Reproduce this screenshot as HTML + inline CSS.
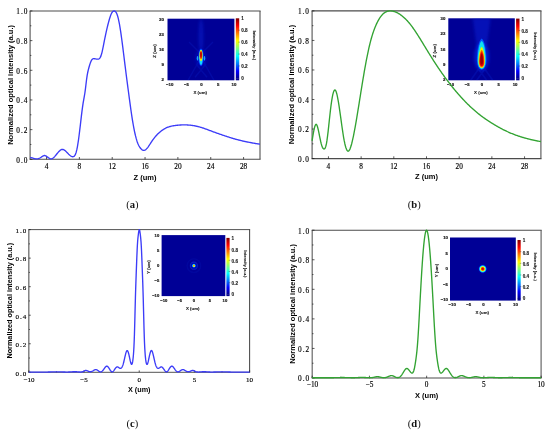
<!DOCTYPE html>
<html><head><meta charset="utf-8"><title>Figure</title>
<style>html,body{margin:0;padding:0;background:#fff}svg{display:block}</style>
</head><body>
<svg width="550" height="433" viewBox="0 0 550 433">
<defs>
<linearGradient id="jet" x1="0" y1="1" x2="0" y2="0"><stop offset="0" stop-color="#00008f"/><stop offset="0.125" stop-color="#0000ff"/><stop offset="0.375" stop-color="#00ffff"/><stop offset="0.625" stop-color="#ffff00"/><stop offset="0.875" stop-color="#ff0000"/><stop offset="1" stop-color="#800000"/></linearGradient>
<radialGradient id="spotC"><stop offset="0" stop-color="#ff7000"/><stop offset="0.28" stop-color="#ffa800"/><stop offset="0.45" stop-color="#a0ff60"/><stop offset="0.62" stop-color="#00b0ff"/><stop offset="0.82" stop-color="#0040ff" stop-opacity="0.7"/><stop offset="1" stop-color="#0000c0" stop-opacity="0"/></radialGradient>
<radialGradient id="spotD"><stop offset="0" stop-color="#b00000"/><stop offset="0.25" stop-color="#e81000"/><stop offset="0.42" stop-color="#ff9000"/><stop offset="0.52" stop-color="#f0ff10"/><stop offset="0.64" stop-color="#30ffc0"/><stop offset="0.76" stop-color="#00a0ff"/><stop offset="0.9" stop-color="#0030f0" stop-opacity="0.7"/><stop offset="1" stop-color="#0000c0" stop-opacity="0"/></radialGradient>
<radialGradient id="halo"><stop offset="0" stop-color="#0030ff" stop-opacity="0.9"/><stop offset="0.6" stop-color="#0018e0" stop-opacity="0.5"/><stop offset="1" stop-color="#0000a0" stop-opacity="0"/></radialGradient>
<filter id="bl0" x="-50%" y="-50%" width="200%" height="200%"><feGaussianBlur stdDeviation="0.35"/></filter>
<filter id="bl1" x="-50%" y="-50%" width="200%" height="200%"><feGaussianBlur stdDeviation="0.6"/></filter>
<filter id="bl2" x="-50%" y="-50%" width="200%" height="200%"><feGaussianBlur stdDeviation="1.6"/></filter>
</defs>
<clipPath id="clipa"><rect x="167.5" y="18.7" width="66.90" height="61.60"/></clipPath>
<rect x="167.5" y="18.7" width="66.90" height="61.60" fill="#000096"/>
<g clip-path="url(#clipa)">
<ellipse cx="201.0" cy="36" rx="2.6" ry="17" fill="#0828d8" opacity="0.45" filter="url(#bl2)"/>
<ellipse cx="201.0" cy="58" rx="6" ry="9" fill="#0010c8" opacity="0.5" filter="url(#bl2)"/>
<path d="M199.5,60 L188.0,80.3 M202.5,60 L214.0,80.3 M199.0,52 L189.0,42 M203.0,52 L213.0,42 M196.0,64 L207.0,77.3 M206.0,64 L195.0,77.3" stroke="#1030e0" stroke-width="1.4" opacity="0.2" fill="none" filter="url(#bl1)"/>
<g filter="url(#bl0)">
<ellipse cx="201.0" cy="57.2" rx="2.6" ry="8.8" fill="#0038ff"/>
<ellipse cx="201.0" cy="57.3" rx="1.8" ry="7.8" fill="#10d8ff"/>
<ellipse cx="201.0" cy="55.6" rx="1.5" ry="5.5" fill="#e8f000"/>
<ellipse cx="201.0" cy="54.9" rx="1.15" ry="4.0" fill="#f02800"/>
<ellipse cx="201.0" cy="54.6" rx="0.7" ry="2.6" fill="#b00000"/>
<ellipse cx="197.5" cy="58.3" rx="0.75" ry="2.4" fill="#18a8ff"/>
<ellipse cx="204.5" cy="58.3" rx="0.75" ry="2.4" fill="#18a8ff"/>
</g>
</g>
<rect x="235.8" y="18.3" width="3.40" height="60.30" fill="url(#jet)"/>
<rect x="235.8" y="78.30" width="3.40" height="2.00" fill="#00008f"/>
<text x="169.70" y="85.90" text-anchor="middle" style="font-family:'Liberation Sans',sans-serif;font-weight:bold;font-size:4.3px;fill:#1a1a1a;stroke:#1a1a1a;stroke-width:0.2">−10</text>
<text x="186.42" y="85.90" text-anchor="middle" style="font-family:'Liberation Sans',sans-serif;font-weight:bold;font-size:4.3px;fill:#1a1a1a;stroke:#1a1a1a;stroke-width:0.2">−5</text>
<text x="201.45" y="85.90" text-anchor="middle" style="font-family:'Liberation Sans',sans-serif;font-weight:bold;font-size:4.3px;fill:#1a1a1a;stroke:#1a1a1a;stroke-width:0.2">0</text>
<text x="218.18" y="85.90" text-anchor="middle" style="font-family:'Liberation Sans',sans-serif;font-weight:bold;font-size:4.3px;fill:#1a1a1a;stroke:#1a1a1a;stroke-width:0.2">5</text>
<text x="234.00" y="85.90" text-anchor="middle" style="font-family:'Liberation Sans',sans-serif;font-weight:bold;font-size:4.3px;fill:#1a1a1a;stroke:#1a1a1a;stroke-width:0.2">10</text>
<text x="163.90" y="20.60" text-anchor="end" style="font-family:'Liberation Sans',sans-serif;font-weight:bold;font-size:4.3px;fill:#1a1a1a;stroke:#1a1a1a;stroke-width:0.2">30</text>
<text x="163.90" y="35.67" text-anchor="end" style="font-family:'Liberation Sans',sans-serif;font-weight:bold;font-size:4.3px;fill:#1a1a1a;stroke:#1a1a1a;stroke-width:0.2">23</text>
<text x="163.90" y="50.75" text-anchor="end" style="font-family:'Liberation Sans',sans-serif;font-weight:bold;font-size:4.3px;fill:#1a1a1a;stroke:#1a1a1a;stroke-width:0.2">16</text>
<text x="163.90" y="65.83" text-anchor="end" style="font-family:'Liberation Sans',sans-serif;font-weight:bold;font-size:4.3px;fill:#1a1a1a;stroke:#1a1a1a;stroke-width:0.2">9</text>
<text x="163.90" y="80.90" text-anchor="end" style="font-family:'Liberation Sans',sans-serif;font-weight:bold;font-size:4.3px;fill:#1a1a1a;stroke:#1a1a1a;stroke-width:0.2">2</text>
<text x="200.25" y="93.70" text-anchor="middle" style="font-family:'Liberation Sans',sans-serif;font-weight:bold;font-size:4.35px;fill:#1a1a1a;stroke:#1a1a1a;stroke-width:0.12">X (um)</text>
<text transform="translate(155.50,51.00) rotate(-90)" text-anchor="middle" style="font-family:'Liberation Sans',sans-serif;font-weight:bold;font-size:4.35px;fill:#1a1a1a;stroke:#1a1a1a;stroke-width:0.12">Z (um)</text>
<path d="M238.30,30.22 h1.6 M238.30,42.14 h1.6 M238.30,54.06 h1.6 M238.30,65.98 h1.6" stroke="#222" stroke-width="0.35" fill="none"/>
<text x="241.20" y="20.45" style="font-family:'Liberation Sans',sans-serif;font-weight:bold;font-size:4.6px;fill:#1a1a1a;stroke:#1a1a1a;stroke-width:0.12">1</text>
<text x="241.20" y="32.27" style="font-family:'Liberation Sans',sans-serif;font-weight:bold;font-size:4.6px;fill:#1a1a1a;stroke:#1a1a1a;stroke-width:0.12">0.8</text>
<text x="241.20" y="44.09" style="font-family:'Liberation Sans',sans-serif;font-weight:bold;font-size:4.6px;fill:#1a1a1a;stroke:#1a1a1a;stroke-width:0.12">0.6</text>
<text x="241.20" y="55.91" style="font-family:'Liberation Sans',sans-serif;font-weight:bold;font-size:4.6px;fill:#1a1a1a;stroke:#1a1a1a;stroke-width:0.12">0.4</text>
<text x="241.20" y="67.73" style="font-family:'Liberation Sans',sans-serif;font-weight:bold;font-size:4.6px;fill:#1a1a1a;stroke:#1a1a1a;stroke-width:0.12">0.2</text>
<text x="241.20" y="79.55" style="font-family:'Liberation Sans',sans-serif;font-weight:bold;font-size:4.6px;fill:#1a1a1a;stroke:#1a1a1a;stroke-width:0.12">0</text>
<text transform="translate(253.20,45.25) rotate(90)" text-anchor="middle" style="font-family:'Liberation Sans',sans-serif;font-weight:bold;font-size:4.4px;fill:#1a1a1a;stroke:#1a1a1a;stroke-width:0.1">Intensity (a.u.)</text>
<path d="M30.1,10.95 V159.3 M260.0,10.95 V159.3" fill="none" stroke="#686868" stroke-width="1.25"/>
<path d="M29.50,10.95 H260.60 M29.50,159.3 H260.60" fill="none" stroke="#4c4c4c" stroke-width="1.10"/>
<path d="M46.52,159.3 v-2.3 M79.36,159.3 v-2.3 M112.21,159.3 v-2.3 M145.05,159.3 v-2.3 M177.89,159.3 v-2.3 M210.74,159.3 v-2.3 M243.58,159.3 v-2.3 M30.1,159.30 h2.3 M30.1,129.63 h2.3 M30.1,99.96 h2.3 M30.1,70.29 h2.3 M30.1,40.62 h2.3 M30.1,10.95 h2.3 M30.1,144.47 h1.26 M30.1,114.79 h1.26 M30.1,85.12 h1.26 M30.1,55.45 h1.26 M30.1,25.78 h1.26" stroke="#151515" stroke-width="0.7" fill="none"/>
<path d="M30.10,157.50 L30.68,157.56 L31.25,157.67 L31.83,157.81 L32.40,157.97 L32.98,158.14 L33.56,158.32 L34.13,158.49 L34.71,158.64 L35.29,158.77 L35.86,158.87 L36.44,158.91 L37.01,158.91 L37.59,158.84 L38.17,158.70 L38.74,158.51 L39.32,158.27 L39.90,157.98 L40.47,157.64 L41.05,157.27 L41.62,156.87 L42.20,156.47 L42.78,156.10 L43.35,155.79 L43.93,155.58 L44.50,155.50 L45.08,155.57 L45.66,155.78 L46.23,156.09 L46.81,156.48 L47.39,156.92 L47.96,157.37 L48.54,157.81 L49.11,158.21 L49.69,158.53 L50.27,158.77 L50.84,158.89 L51.42,158.87 L52.00,158.71 L52.57,158.42 L53.15,158.03 L53.72,157.54 L54.30,156.97 L54.88,156.35 L55.45,155.67 L56.03,154.96 L56.60,154.24 L57.18,153.52 L57.76,152.81 L58.33,152.13 L58.91,151.49 L59.49,150.91 L60.06,150.40 L60.64,149.98 L61.21,149.66 L61.79,149.46 L62.37,149.39 L62.94,149.46 L63.52,149.65 L64.10,149.95 L64.67,150.33 L65.25,150.79 L65.82,151.31 L66.40,151.87 L66.98,152.46 L67.55,153.05 L68.13,153.65 L68.70,154.22 L69.28,154.77 L69.86,155.27 L70.43,155.72 L71.01,156.10 L71.59,156.40 L72.16,156.61 L72.74,156.71 L73.31,156.68 L73.89,156.45 L74.47,155.96 L75.04,155.13 L75.62,153.89 L76.20,152.19 L76.77,149.95 L77.35,147.11 L77.92,143.70 L78.50,139.79 L79.08,135.49 L79.65,130.89 L80.23,126.06 L80.80,121.12 L81.38,116.19 L81.96,111.45 L82.53,107.07 L83.11,103.21 L83.69,99.88 L84.26,96.70 L84.84,93.25 L85.41,89.10 L85.99,84.23 L86.57,79.49 L87.14,75.60 L87.72,72.49 L88.30,69.94 L88.87,67.76 L89.45,65.75 L90.02,63.89 L90.60,62.25 L91.18,60.89 L91.75,59.87 L92.33,59.21 L92.90,58.84 L93.48,58.69 L94.06,58.69 L94.63,58.75 L95.21,58.85 L95.79,58.96 L96.36,59.07 L96.94,59.16 L97.51,59.20 L98.09,59.18 L98.67,59.04 L99.24,58.71 L99.82,58.11 L100.40,57.19 L100.97,55.86 L101.55,54.05 L102.12,51.81 L102.70,49.22 L103.28,46.40 L103.85,43.45 L104.43,40.47 L105.00,37.57 L105.58,34.78 L106.16,32.10 L106.73,29.54 L107.31,27.09 L107.89,24.77 L108.46,22.55 L109.04,20.47 L109.61,18.51 L110.19,16.70 L110.77,15.10 L111.34,13.72 L111.92,12.60 L112.50,11.79 L113.07,11.28 L113.65,11.04 L114.22,11.00 L114.80,11.14 L115.38,11.50 L115.95,12.13 L116.53,13.11 L117.10,14.48 L117.68,16.26 L118.26,18.45 L118.83,21.03 L119.41,23.97 L119.99,27.26 L120.56,30.89 L121.14,34.82 L121.71,39.00 L122.29,43.37 L122.87,47.89 L123.44,52.50 L124.02,57.15 L124.60,61.80 L125.17,66.42 L125.75,71.01 L126.32,75.54 L126.90,80.00 L127.48,84.39 L128.05,88.73 L128.63,93.03 L129.20,97.33 L129.78,101.62 L130.36,105.86 L130.93,110.00 L131.51,113.99 L132.09,117.80 L132.66,121.40 L133.24,124.76 L133.81,127.91 L134.39,130.82 L134.97,133.50 L135.54,135.94 L136.12,138.16 L136.70,140.15 L137.27,141.92 L137.85,143.47 L138.42,144.81 L139.00,145.97 L139.58,146.95 L140.15,147.79 L140.73,148.50 L141.30,149.11 L141.88,149.62 L142.46,150.01 L143.03,150.28 L143.61,150.40 L144.19,150.36 L144.76,150.18 L145.34,149.86 L145.91,149.42 L146.49,148.88 L147.07,148.26 L147.64,147.55 L148.22,146.79 L148.80,145.98 L149.37,145.13 L149.95,144.25 L150.52,143.36 L151.10,142.47 L151.68,141.58 L152.25,140.72 L152.83,139.88 L153.40,139.08 L153.98,138.32 L154.56,137.58 L155.13,136.87 L155.71,136.20 L156.29,135.55 L156.86,134.93 L157.44,134.33 L158.01,133.76 L158.59,133.21 L159.17,132.68 L159.74,132.18 L160.32,131.69 L160.90,131.23 L161.47,130.78 L162.05,130.36 L162.62,129.96 L163.20,129.58 L163.78,129.22 L164.35,128.88 L164.93,128.55 L165.50,128.25 L166.08,127.97 L166.66,127.71 L167.23,127.46 L167.81,127.23 L168.39,127.02 L168.96,126.83 L169.54,126.65 L170.11,126.49 L170.69,126.34 L171.27,126.20 L171.84,126.07 L172.42,125.96 L173.00,125.85 L173.57,125.75 L174.15,125.66 L174.72,125.58 L175.30,125.50 L175.88,125.43 L176.45,125.36 L177.03,125.29 L177.60,125.23 L178.18,125.18 L178.76,125.13 L179.33,125.08 L179.91,125.04 L180.49,125.01 L181.06,124.97 L181.64,124.95 L182.21,124.93 L182.79,124.91 L183.37,124.90 L183.94,124.90 L184.52,124.90 L185.10,124.90 L185.67,124.91 L186.25,124.93 L186.82,124.95 L187.40,124.98 L187.98,125.01 L188.55,125.05 L189.13,125.09 L189.70,125.14 L190.28,125.20 L190.86,125.26 L191.43,125.33 L192.01,125.40 L192.59,125.48 L193.16,125.57 L193.74,125.66 L194.31,125.76 L194.89,125.87 L195.47,125.98 L196.04,126.10 L196.62,126.22 L197.20,126.35 L197.77,126.49 L198.35,126.63 L198.92,126.79 L199.50,126.94 L200.08,127.11 L200.65,127.28 L201.23,127.46 L201.80,127.64 L202.38,127.82 L202.96,128.01 L203.53,128.21 L204.11,128.41 L204.69,128.61 L205.26,128.81 L205.84,129.02 L206.41,129.23 L206.99,129.45 L207.57,129.66 L208.14,129.88 L208.72,130.09 L209.30,130.31 L209.87,130.53 L210.45,130.74 L211.02,130.96 L211.60,131.17 L212.18,131.39 L212.75,131.60 L213.33,131.82 L213.90,132.03 L214.48,132.24 L215.06,132.45 L215.63,132.66 L216.21,132.86 L216.79,133.07 L217.36,133.27 L217.94,133.48 L218.51,133.68 L219.09,133.88 L219.67,134.09 L220.24,134.29 L220.82,134.48 L221.40,134.68 L221.97,134.88 L222.55,135.08 L223.12,135.27 L223.70,135.47 L224.28,135.66 L224.85,135.85 L225.43,136.04 L226.00,136.23 L226.58,136.42 L227.16,136.61 L227.73,136.80 L228.31,136.98 L228.89,137.16 L229.46,137.35 L230.04,137.53 L230.61,137.70 L231.19,137.88 L231.77,138.06 L232.34,138.23 L232.92,138.40 L233.50,138.57 L234.07,138.74 L234.65,138.90 L235.22,139.07 L235.80,139.23 L236.38,139.39 L236.95,139.54 L237.53,139.69 L238.10,139.85 L238.68,139.99 L239.26,140.14 L239.83,140.28 L240.41,140.43 L240.99,140.57 L241.56,140.70 L242.14,140.84 L242.71,140.97 L243.29,141.10 L243.87,141.23 L244.44,141.36 L245.02,141.49 L245.60,141.61 L246.17,141.73 L246.75,141.85 L247.32,141.97 L247.90,142.09 L248.48,142.20 L249.05,142.31 L249.63,142.42 L250.20,142.53 L250.78,142.64 L251.36,142.75 L251.93,142.86 L252.51,142.96 L253.09,143.06 L253.66,143.16 L254.24,143.26 L254.81,143.36 L255.39,143.46 L255.97,143.56 L256.54,143.65 L257.12,143.74 L257.70,143.84 L258.27,143.93 L258.85,144.02 L259.42,144.11 L260.00,144.20" fill="none" stroke="#3c3cf8" stroke-width="1.35" stroke-linejoin="round"/>
<text x="46.52" y="168.90" text-anchor="middle" style="font-family:'Liberation Serif',serif;font-size:7.30px;fill:#000;stroke:#000;stroke-width:0.15">4</text>
<text x="79.36" y="168.90" text-anchor="middle" style="font-family:'Liberation Serif',serif;font-size:7.30px;fill:#000;stroke:#000;stroke-width:0.15">8</text>
<text x="112.21" y="168.90" text-anchor="middle" style="font-family:'Liberation Serif',serif;font-size:7.30px;fill:#000;stroke:#000;stroke-width:0.15">12</text>
<text x="145.05" y="168.90" text-anchor="middle" style="font-family:'Liberation Serif',serif;font-size:7.30px;fill:#000;stroke:#000;stroke-width:0.15">16</text>
<text x="177.89" y="168.90" text-anchor="middle" style="font-family:'Liberation Serif',serif;font-size:7.30px;fill:#000;stroke:#000;stroke-width:0.15">20</text>
<text x="210.74" y="168.90" text-anchor="middle" style="font-family:'Liberation Serif',serif;font-size:7.30px;fill:#000;stroke:#000;stroke-width:0.15">24</text>
<text x="243.58" y="168.90" text-anchor="middle" style="font-family:'Liberation Serif',serif;font-size:7.30px;fill:#000;stroke:#000;stroke-width:0.15">28</text>
<text x="27.40" y="162.70" text-anchor="end" textLength="11.10" lengthAdjust="spacing" style="font-family:'Liberation Serif',serif;font-size:7.30px;fill:#000;stroke:#000;stroke-width:0.15">0.0</text>
<text x="27.40" y="133.03" text-anchor="end" textLength="11.10" lengthAdjust="spacing" style="font-family:'Liberation Serif',serif;font-size:7.30px;fill:#000;stroke:#000;stroke-width:0.15">0.2</text>
<text x="27.40" y="103.36" text-anchor="end" textLength="11.10" lengthAdjust="spacing" style="font-family:'Liberation Serif',serif;font-size:7.30px;fill:#000;stroke:#000;stroke-width:0.15">0.4</text>
<text x="27.40" y="73.69" text-anchor="end" textLength="11.10" lengthAdjust="spacing" style="font-family:'Liberation Serif',serif;font-size:7.30px;fill:#000;stroke:#000;stroke-width:0.15">0.6</text>
<text x="27.40" y="44.02" text-anchor="end" textLength="11.10" lengthAdjust="spacing" style="font-family:'Liberation Serif',serif;font-size:7.30px;fill:#000;stroke:#000;stroke-width:0.15">0.8</text>
<text x="27.40" y="14.35" text-anchor="end" textLength="11.10" lengthAdjust="spacing" style="font-family:'Liberation Serif',serif;font-size:7.30px;fill:#000;stroke:#000;stroke-width:0.15">1.0</text>
<text x="145.05" y="179.90" text-anchor="middle" style="font-family:'Liberation Sans',sans-serif;font-weight:bold;font-size:7.52px;fill:#000">Z (um)</text>
<text transform="translate(12.80,84.92) rotate(-90)" text-anchor="middle" style="font-family:'Liberation Sans',sans-serif;font-weight:bold;font-size:7.52px;fill:#000">Normalized optical intensity (a.u.)</text>
<clipPath id="clipb"><rect x="448.3" y="18.3" width="66.50" height="62.00"/></clipPath>
<rect x="448.3" y="18.3" width="66.50" height="62.00" fill="#000096"/>
<g clip-path="url(#clipb)">
<path d="M478.7,62 L472.7,18.3 L490.7,18.3 L484.7,62 Z" fill="#0828e0" opacity="0.45" filter="url(#bl2)"/>
<ellipse cx="481.7" cy="57" rx="7.5" ry="14" fill="#0030f0" opacity="0.6" filter="url(#bl2)"/>
<path d="M480.7,66 L470.7,80.3 M482.7,66 L492.7,80.3 M479.2,70 L486.7,80.3 M484.2,70 L476.7,80.3" stroke="#1030e0" stroke-width="1.6" opacity="0.22" fill="none" filter="url(#bl1)"/>
<g filter="url(#bl1)">
<path d="M481.7,38.5 C484.34,39.75 486.50,50.39 486.50,60.41 A4.80,9.39 0 0 1 476.90,60.41 C476.90,50.39 479.06,39.75 481.7,38.5 Z" fill="#0058ff"/>
<path d="M481.7,41.0 C483.90,42.12 485.70,51.64 485.70,60.60 A4.00,8.40 0 0 1 477.70,60.60 C477.70,51.64 479.50,42.12 481.7,41.0 Z" fill="#10e0f0"/>
<path d="M481.7,47.0 C483.46,47.84 484.90,55.02 484.90,61.77 A3.20,6.33 0 0 1 478.50,61.77 C478.50,55.02 479.94,47.84 481.7,47.0 Z" fill="#e8f000"/>
<path d="M481.7,50.0 C483.13,50.69 484.30,56.54 484.30,62.04 A2.60,5.16 0 0 1 479.10,62.04 C479.10,56.54 480.27,50.69 481.7,50.0 Z" fill="#ff5000"/>
<path d="M481.7,52.0 C482.80,52.56 483.70,57.32 483.70,61.80 A2.00,4.20 0 0 1 479.70,61.80 C479.70,57.32 480.60,52.56 481.7,52.0 Z" fill="#e00000"/>
<path d="M481.7,54.0 C482.41,54.42 483.00,57.95 483.00,61.28 A1.30,3.12 0 0 1 480.40,61.28 C480.40,57.95 480.99,54.42 481.7,54.0 Z" fill="#980000"/>
</g>
</g>
<rect x="516.1" y="18.6" width="3.40" height="60.00" fill="url(#jet)"/>
<rect x="516.1" y="78.30" width="3.40" height="2.00" fill="#00008f"/>
<text x="450.50" y="85.90" text-anchor="middle" style="font-family:'Liberation Sans',sans-serif;font-weight:bold;font-size:4.2828px;fill:#1a1a1a;stroke:#1a1a1a;stroke-width:0.2">−10</text>
<text x="467.12" y="85.90" text-anchor="middle" style="font-family:'Liberation Sans',sans-serif;font-weight:bold;font-size:4.2828px;fill:#1a1a1a;stroke:#1a1a1a;stroke-width:0.2">−5</text>
<text x="482.05" y="85.90" text-anchor="middle" style="font-family:'Liberation Sans',sans-serif;font-weight:bold;font-size:4.2828px;fill:#1a1a1a;stroke:#1a1a1a;stroke-width:0.2">0</text>
<text x="498.67" y="85.90" text-anchor="middle" style="font-family:'Liberation Sans',sans-serif;font-weight:bold;font-size:4.2828px;fill:#1a1a1a;stroke:#1a1a1a;stroke-width:0.2">5</text>
<text x="515.10" y="85.90" text-anchor="middle" style="font-family:'Liberation Sans',sans-serif;font-weight:bold;font-size:4.2828px;fill:#1a1a1a;stroke:#1a1a1a;stroke-width:0.2">10</text>
<text x="445.30" y="20.20" text-anchor="end" style="font-family:'Liberation Sans',sans-serif;font-weight:bold;font-size:4.2828px;fill:#1a1a1a;stroke:#1a1a1a;stroke-width:0.2">30</text>
<text x="445.30" y="35.38" text-anchor="end" style="font-family:'Liberation Sans',sans-serif;font-weight:bold;font-size:4.2828px;fill:#1a1a1a;stroke:#1a1a1a;stroke-width:0.2">23</text>
<text x="445.30" y="50.55" text-anchor="end" style="font-family:'Liberation Sans',sans-serif;font-weight:bold;font-size:4.2828px;fill:#1a1a1a;stroke:#1a1a1a;stroke-width:0.2">16</text>
<text x="445.30" y="65.73" text-anchor="end" style="font-family:'Liberation Sans',sans-serif;font-weight:bold;font-size:4.2828px;fill:#1a1a1a;stroke:#1a1a1a;stroke-width:0.2">9</text>
<text x="445.30" y="80.90" text-anchor="end" style="font-family:'Liberation Sans',sans-serif;font-weight:bold;font-size:4.2828px;fill:#1a1a1a;stroke:#1a1a1a;stroke-width:0.2">2</text>
<text x="480.85" y="93.70" text-anchor="middle" style="font-family:'Liberation Sans',sans-serif;font-weight:bold;font-size:4.35px;fill:#1a1a1a;stroke:#1a1a1a;stroke-width:0.12">X (um)</text>
<text transform="translate(436.30,50.80) rotate(-90)" text-anchor="middle" style="font-family:'Liberation Sans',sans-serif;font-weight:bold;font-size:4.35px;fill:#1a1a1a;stroke:#1a1a1a;stroke-width:0.12">Z (um)</text>
<path d="M518.60,30.46 h1.6 M518.60,42.32 h1.6 M518.60,54.18 h1.6 M518.60,66.04 h1.6" stroke="#222" stroke-width="0.35" fill="none"/>
<text x="521.50" y="20.75" style="font-family:'Liberation Sans',sans-serif;font-weight:bold;font-size:4.6px;fill:#1a1a1a;stroke:#1a1a1a;stroke-width:0.12">1</text>
<text x="521.50" y="32.51" style="font-family:'Liberation Sans',sans-serif;font-weight:bold;font-size:4.6px;fill:#1a1a1a;stroke:#1a1a1a;stroke-width:0.12">0.8</text>
<text x="521.50" y="44.27" style="font-family:'Liberation Sans',sans-serif;font-weight:bold;font-size:4.6px;fill:#1a1a1a;stroke:#1a1a1a;stroke-width:0.12">0.6</text>
<text x="521.50" y="56.03" style="font-family:'Liberation Sans',sans-serif;font-weight:bold;font-size:4.6px;fill:#1a1a1a;stroke:#1a1a1a;stroke-width:0.12">0.4</text>
<text x="521.50" y="67.79" style="font-family:'Liberation Sans',sans-serif;font-weight:bold;font-size:4.6px;fill:#1a1a1a;stroke:#1a1a1a;stroke-width:0.12">0.2</text>
<text x="521.50" y="79.55" style="font-family:'Liberation Sans',sans-serif;font-weight:bold;font-size:4.6px;fill:#1a1a1a;stroke:#1a1a1a;stroke-width:0.12">0</text>
<text transform="translate(533.50,46.20) rotate(90)" text-anchor="middle" style="font-family:'Liberation Sans',sans-serif;font-weight:bold;font-size:4.15px;fill:#1a1a1a;stroke:#1a1a1a;stroke-width:0.1">Intensity (a.u.)</text>
<path d="M312.1,10.9 V158.6 M540.9,10.9 V158.6" fill="none" stroke="#686868" stroke-width="1.25"/>
<path d="M311.50,10.9 H541.50 M311.50,158.6 H541.50" fill="none" stroke="#4c4c4c" stroke-width="1.10"/>
<path d="M328.44,158.6 v-2.3 M361.13,158.6 v-2.3 M393.81,158.6 v-2.3 M426.50,158.6 v-2.3 M459.19,158.6 v-2.3 M491.87,158.6 v-2.3 M524.56,158.6 v-2.3 M312.1,158.60 h2.3 M312.1,129.06 h2.3 M312.1,99.52 h2.3 M312.1,69.98 h2.3 M312.1,40.44 h2.3 M312.1,10.90 h2.3 M312.1,143.83 h1.26 M312.1,114.29 h1.26 M312.1,84.75 h1.26 M312.1,55.21 h1.26 M312.1,25.67 h1.26" stroke="#151515" stroke-width="0.7" fill="none"/>
<path d="M312.10,140.88 L312.67,137.13 L313.25,133.67 L313.82,130.58 L314.39,127.99 L314.97,126.01 L315.54,124.73 L316.11,124.26 L316.69,124.71 L317.26,126.02 L317.83,127.99 L318.41,130.43 L318.98,133.17 L319.55,136.02 L320.13,138.84 L320.70,141.50 L321.27,143.89 L321.85,145.87 L322.42,147.36 L323.00,148.34 L323.57,148.88 L324.14,149.00 L324.72,148.68 L325.29,147.78 L325.86,146.15 L326.44,143.65 L327.01,140.19 L327.58,135.94 L328.16,131.11 L328.73,125.91 L329.30,120.54 L329.88,115.22 L330.45,110.16 L331.02,105.54 L331.60,101.44 L332.17,97.90 L332.74,94.96 L333.32,92.65 L333.89,91.02 L334.46,90.11 L335.04,89.95 L335.61,90.55 L336.18,91.82 L336.76,93.71 L337.33,96.14 L337.90,99.03 L338.48,102.32 L339.05,105.92 L339.62,109.78 L340.20,113.82 L340.77,117.95 L341.35,122.11 L341.92,126.23 L342.49,130.22 L343.07,134.01 L343.64,137.53 L344.21,140.70 L344.79,143.48 L345.36,145.85 L345.93,147.80 L346.51,149.32 L347.08,150.41 L347.65,151.04 L348.23,151.21 L348.80,150.92 L349.37,150.20 L349.95,149.08 L350.52,147.61 L351.09,145.82 L351.67,143.76 L352.24,141.46 L352.81,138.96 L353.39,136.29 L353.96,133.46 L354.53,130.48 L355.11,127.38 L355.68,124.17 L356.25,120.85 L356.83,117.45 L357.40,113.98 L357.97,110.45 L358.55,106.88 L359.12,103.28 L359.69,99.66 L360.27,96.05 L360.84,92.45 L361.42,88.88 L361.99,85.34 L362.56,81.86 L363.14,78.42 L363.71,75.04 L364.28,71.73 L364.86,68.48 L365.43,65.31 L366.00,62.22 L366.58,59.22 L367.15,56.31 L367.72,53.51 L368.30,50.80 L368.87,48.21 L369.44,45.74 L370.02,43.39 L370.59,41.16 L371.16,39.03 L371.74,37.02 L372.31,35.12 L372.88,33.31 L373.46,31.60 L374.03,29.98 L374.60,28.45 L375.18,27.01 L375.75,25.64 L376.32,24.35 L376.90,23.13 L377.47,21.98 L378.04,20.89 L378.62,19.86 L379.19,18.90 L379.77,17.99 L380.34,17.15 L380.91,16.36 L381.49,15.64 L382.06,14.97 L382.63,14.36 L383.21,13.80 L383.78,13.30 L384.35,12.85 L384.93,12.46 L385.50,12.12 L386.07,11.82 L386.65,11.57 L387.22,11.37 L387.79,11.20 L388.37,11.08 L388.94,10.98 L389.51,10.93 L390.09,10.90 L390.66,10.90 L391.23,10.93 L391.81,10.99 L392.38,11.08 L392.95,11.19 L393.53,11.32 L394.10,11.48 L394.67,11.67 L395.25,11.88 L395.82,12.11 L396.39,12.36 L396.97,12.63 L397.54,12.92 L398.12,13.23 L398.69,13.57 L399.26,13.92 L399.84,14.29 L400.41,14.68 L400.98,15.09 L401.56,15.51 L402.13,15.96 L402.70,16.43 L403.28,16.91 L403.85,17.41 L404.42,17.94 L405.00,18.48 L405.57,19.04 L406.14,19.62 L406.72,20.21 L407.29,20.83 L407.86,21.47 L408.44,22.12 L409.01,22.79 L409.58,23.48 L410.16,24.19 L410.73,24.92 L411.30,25.67 L411.88,26.43 L412.45,27.21 L413.02,28.01 L413.60,28.82 L414.17,29.64 L414.74,30.48 L415.32,31.33 L415.89,32.19 L416.46,33.06 L417.04,33.94 L417.61,34.83 L418.19,35.74 L418.76,36.64 L419.33,37.56 L419.91,38.48 L420.48,39.41 L421.05,40.34 L421.63,41.28 L422.20,42.22 L422.77,43.16 L423.35,44.11 L423.92,45.05 L424.49,46.00 L425.07,46.94 L425.64,47.89 L426.21,48.83 L426.79,49.77 L427.36,50.71 L427.93,51.64 L428.51,52.57 L429.08,53.50 L429.65,54.42 L430.23,55.34 L430.80,56.25 L431.37,57.17 L431.95,58.07 L432.52,58.98 L433.09,59.88 L433.67,60.77 L434.24,61.66 L434.81,62.55 L435.39,63.43 L435.96,64.30 L436.54,65.18 L437.11,66.04 L437.68,66.90 L438.26,67.76 L438.83,68.61 L439.40,69.46 L439.98,70.30 L440.55,71.13 L441.12,71.96 L441.70,72.78 L442.27,73.60 L442.84,74.41 L443.42,75.22 L443.99,76.01 L444.56,76.81 L445.14,77.59 L445.71,78.38 L446.28,79.15 L446.86,79.92 L447.43,80.68 L448.00,81.44 L448.58,82.19 L449.15,82.94 L449.72,83.68 L450.30,84.41 L450.87,85.14 L451.44,85.86 L452.02,86.58 L452.59,87.29 L453.16,88.00 L453.74,88.70 L454.31,89.39 L454.88,90.08 L455.46,90.77 L456.03,91.45 L456.61,92.12 L457.18,92.79 L457.75,93.45 L458.33,94.11 L458.90,94.76 L459.47,95.41 L460.05,96.06 L460.62,96.69 L461.19,97.33 L461.77,97.95 L462.34,98.57 L462.91,99.19 L463.49,99.80 L464.06,100.41 L464.63,101.01 L465.21,101.60 L465.78,102.19 L466.35,102.78 L466.93,103.36 L467.50,103.93 L468.07,104.50 L468.65,105.06 L469.22,105.61 L469.79,106.16 L470.37,106.71 L470.94,107.24 L471.51,107.78 L472.09,108.30 L472.66,108.82 L473.23,109.34 L473.81,109.85 L474.38,110.35 L474.96,110.85 L475.53,111.34 L476.10,111.82 L476.68,112.30 L477.25,112.77 L477.82,113.24 L478.40,113.70 L478.97,114.15 L479.54,114.60 L480.12,115.04 L480.69,115.48 L481.26,115.92 L481.84,116.35 L482.41,116.77 L482.98,117.19 L483.56,117.60 L484.13,118.01 L484.70,118.42 L485.28,118.82 L485.85,119.21 L486.42,119.61 L487.00,120.00 L487.57,120.38 L488.14,120.76 L488.72,121.14 L489.29,121.51 L489.86,121.88 L490.44,122.25 L491.01,122.61 L491.58,122.97 L492.16,123.33 L492.73,123.69 L493.31,124.04 L493.88,124.39 L494.45,124.73 L495.03,125.07 L495.60,125.41 L496.17,125.75 L496.75,126.08 L497.32,126.41 L497.89,126.74 L498.47,127.06 L499.04,127.38 L499.61,127.70 L500.19,128.01 L500.76,128.32 L501.33,128.63 L501.91,128.93 L502.48,129.23 L503.05,129.53 L503.63,129.82 L504.20,130.11 L504.77,130.39 L505.35,130.67 L505.92,130.95 L506.49,131.22 L507.07,131.49 L507.64,131.75 L508.21,132.01 L508.79,132.27 L509.36,132.52 L509.93,132.77 L510.51,133.02 L511.08,133.26 L511.65,133.50 L512.23,133.73 L512.80,133.96 L513.38,134.18 L513.95,134.41 L514.52,134.63 L515.10,134.84 L515.67,135.05 L516.24,135.26 L516.82,135.47 L517.39,135.67 L517.96,135.87 L518.54,136.06 L519.11,136.25 L519.68,136.44 L520.26,136.63 L520.83,136.81 L521.40,136.99 L521.98,137.16 L522.55,137.34 L523.12,137.51 L523.70,137.68 L524.27,137.84 L524.84,138.00 L525.42,138.16 L525.99,138.32 L526.56,138.47 L527.14,138.62 L527.71,138.77 L528.28,138.92 L528.86,139.06 L529.43,139.21 L530.00,139.35 L530.58,139.48 L531.15,139.62 L531.73,139.75 L532.30,139.88 L532.87,140.01 L533.45,140.14 L534.02,140.26 L534.59,140.38 L535.17,140.50 L535.74,140.62 L536.31,140.74 L536.89,140.85 L537.46,140.97 L538.03,141.08 L538.61,141.19 L539.18,141.30 L539.75,141.41 L540.33,141.51 L540.90,141.61" fill="none" stroke="#32a332" stroke-width="1.35" stroke-linejoin="round"/>
<text x="328.44" y="168.66" text-anchor="middle" style="font-family:'Liberation Serif',serif;font-size:7.27px;fill:#000;stroke:#000;stroke-width:0.15">4</text>
<text x="361.13" y="168.66" text-anchor="middle" style="font-family:'Liberation Serif',serif;font-size:7.27px;fill:#000;stroke:#000;stroke-width:0.15">8</text>
<text x="393.81" y="168.66" text-anchor="middle" style="font-family:'Liberation Serif',serif;font-size:7.27px;fill:#000;stroke:#000;stroke-width:0.15">12</text>
<text x="426.50" y="168.66" text-anchor="middle" style="font-family:'Liberation Serif',serif;font-size:7.27px;fill:#000;stroke:#000;stroke-width:0.15">16</text>
<text x="459.19" y="168.66" text-anchor="middle" style="font-family:'Liberation Serif',serif;font-size:7.27px;fill:#000;stroke:#000;stroke-width:0.15">20</text>
<text x="491.87" y="168.66" text-anchor="middle" style="font-family:'Liberation Serif',serif;font-size:7.27px;fill:#000;stroke:#000;stroke-width:0.15">24</text>
<text x="524.56" y="168.66" text-anchor="middle" style="font-family:'Liberation Serif',serif;font-size:7.27px;fill:#000;stroke:#000;stroke-width:0.15">28</text>
<text x="309.00" y="161.99" text-anchor="end" textLength="11.06" lengthAdjust="spacing" style="font-family:'Liberation Serif',serif;font-size:7.27px;fill:#000;stroke:#000;stroke-width:0.15">0.0</text>
<text x="309.00" y="132.45" text-anchor="end" textLength="11.06" lengthAdjust="spacing" style="font-family:'Liberation Serif',serif;font-size:7.27px;fill:#000;stroke:#000;stroke-width:0.15">0.2</text>
<text x="309.00" y="102.91" text-anchor="end" textLength="11.06" lengthAdjust="spacing" style="font-family:'Liberation Serif',serif;font-size:7.27px;fill:#000;stroke:#000;stroke-width:0.15">0.4</text>
<text x="309.00" y="73.37" text-anchor="end" textLength="11.06" lengthAdjust="spacing" style="font-family:'Liberation Serif',serif;font-size:7.27px;fill:#000;stroke:#000;stroke-width:0.15">0.6</text>
<text x="309.00" y="43.83" text-anchor="end" textLength="11.06" lengthAdjust="spacing" style="font-family:'Liberation Serif',serif;font-size:7.27px;fill:#000;stroke:#000;stroke-width:0.15">0.8</text>
<text x="309.00" y="14.29" text-anchor="end" textLength="11.06" lengthAdjust="spacing" style="font-family:'Liberation Serif',serif;font-size:7.27px;fill:#000;stroke:#000;stroke-width:0.15">1.0</text>
<text x="426.50" y="179.12" text-anchor="middle" style="font-family:'Liberation Sans',sans-serif;font-weight:bold;font-size:7.49px;fill:#000">Z (um)</text>
<text transform="translate(294.20,84.55) rotate(-90)" text-anchor="middle" style="font-family:'Liberation Sans',sans-serif;font-weight:bold;font-size:7.49px;fill:#000">Normalized optical intensity (a.u.)</text>
<clipPath id="clipc"><rect x="161.6" y="235.1" width="63.70" height="61.00"/></clipPath>
<rect x="161.6" y="235.1" width="63.70" height="61.00" fill="#000096"/>
<g clip-path="url(#clipc)">
<circle cx="193.9" cy="265.7" r="4.4" fill="url(#halo)" opacity="0.6"/>
<circle cx="193.9" cy="265.7" r="3.6" fill="none" stroke="#1848f0" stroke-width="1.1" opacity="0.4" filter="url(#bl0)"/>
<circle cx="193.9" cy="265.7" r="6.8" fill="none" stroke="#1030d0" stroke-width="1.2" opacity="0.15" filter="url(#bl1)"/>
<circle cx="193.9" cy="265.7" r="2.3" fill="url(#spotC)"/>
</g>
<rect x="226.4" y="237.9" width="3.20" height="56.70" fill="url(#jet)"/>
<rect x="226.4" y="294.30" width="3.20" height="1.80" fill="#00008f"/>
<text x="163.80" y="301.70" text-anchor="middle" style="font-family:'Liberation Sans',sans-serif;font-weight:bold;font-size:4.1452px;fill:#1a1a1a;stroke:#1a1a1a;stroke-width:0.2">−10</text>
<text x="179.72" y="301.70" text-anchor="middle" style="font-family:'Liberation Sans',sans-serif;font-weight:bold;font-size:4.1452px;fill:#1a1a1a;stroke:#1a1a1a;stroke-width:0.2">−5</text>
<text x="193.95" y="301.70" text-anchor="middle" style="font-family:'Liberation Sans',sans-serif;font-weight:bold;font-size:4.1452px;fill:#1a1a1a;stroke:#1a1a1a;stroke-width:0.2">0</text>
<text x="209.88" y="301.70" text-anchor="middle" style="font-family:'Liberation Sans',sans-serif;font-weight:bold;font-size:4.1452px;fill:#1a1a1a;stroke:#1a1a1a;stroke-width:0.2">5</text>
<text x="224.90" y="301.70" text-anchor="middle" style="font-family:'Liberation Sans',sans-serif;font-weight:bold;font-size:4.1452px;fill:#1a1a1a;stroke:#1a1a1a;stroke-width:0.2">10</text>
<text x="159.20" y="237.00" text-anchor="end" style="font-family:'Liberation Sans',sans-serif;font-weight:bold;font-size:4.1452px;fill:#1a1a1a;stroke:#1a1a1a;stroke-width:0.2">10</text>
<text x="159.20" y="251.93" text-anchor="end" style="font-family:'Liberation Sans',sans-serif;font-weight:bold;font-size:4.1452px;fill:#1a1a1a;stroke:#1a1a1a;stroke-width:0.2">5</text>
<text x="159.20" y="266.85" text-anchor="end" style="font-family:'Liberation Sans',sans-serif;font-weight:bold;font-size:4.1452px;fill:#1a1a1a;stroke:#1a1a1a;stroke-width:0.2">0</text>
<text x="159.20" y="281.77" text-anchor="end" style="font-family:'Liberation Sans',sans-serif;font-weight:bold;font-size:4.1452px;fill:#1a1a1a;stroke:#1a1a1a;stroke-width:0.2">−5</text>
<text x="159.20" y="296.70" text-anchor="end" style="font-family:'Liberation Sans',sans-serif;font-weight:bold;font-size:4.1452px;fill:#1a1a1a;stroke:#1a1a1a;stroke-width:0.2">−10</text>
<text x="192.75" y="309.50" text-anchor="middle" style="font-family:'Liberation Sans',sans-serif;font-weight:bold;font-size:4.35px;fill:#1a1a1a;stroke:#1a1a1a;stroke-width:0.12">X (um)</text>
<text transform="translate(149.60,267.10) rotate(-90)" text-anchor="middle" style="font-family:'Liberation Sans',sans-serif;font-weight:bold;font-size:4.35px;fill:#1a1a1a;stroke:#1a1a1a;stroke-width:0.12">Y (um)</text>
<path d="M228.70,249.10 h1.6 M228.70,260.30 h1.6 M228.70,271.50 h1.6 M228.70,282.70 h1.6" stroke="#222" stroke-width="0.35" fill="none"/>
<text x="231.60" y="240.05" style="font-family:'Liberation Sans',sans-serif;font-weight:bold;font-size:4.6px;fill:#1a1a1a;stroke:#1a1a1a;stroke-width:0.12">1</text>
<text x="231.60" y="251.65" style="font-family:'Liberation Sans',sans-serif;font-weight:bold;font-size:4.6px;fill:#1a1a1a;stroke:#1a1a1a;stroke-width:0.12">0.8</text>
<text x="231.60" y="262.75" style="font-family:'Liberation Sans',sans-serif;font-weight:bold;font-size:4.6px;fill:#1a1a1a;stroke:#1a1a1a;stroke-width:0.12">0.6</text>
<text x="231.60" y="273.85" style="font-family:'Liberation Sans',sans-serif;font-weight:bold;font-size:4.6px;fill:#1a1a1a;stroke:#1a1a1a;stroke-width:0.12">0.4</text>
<text x="231.60" y="284.95" style="font-family:'Liberation Sans',sans-serif;font-weight:bold;font-size:4.6px;fill:#1a1a1a;stroke:#1a1a1a;stroke-width:0.12">0.2</text>
<text x="231.60" y="295.55" style="font-family:'Liberation Sans',sans-serif;font-weight:bold;font-size:4.6px;fill:#1a1a1a;stroke:#1a1a1a;stroke-width:0.12">0</text>
<text transform="translate(243.60,263.85) rotate(90)" text-anchor="middle" style="font-family:'Liberation Sans',sans-serif;font-weight:bold;font-size:4.0px;fill:#1a1a1a;stroke:#1a1a1a;stroke-width:0.1">Intensity (a.u.)</text>
<path d="M28.85,229.6 V372.3 M249.6,229.6 V372.3" fill="none" stroke="#4a4a4a" stroke-width="1.05"/>
<path d="M28.35,229.6 H250.10 M28.35,372.3 H250.10" fill="none" stroke="#404040" stroke-width="0.90"/>
<path d="M28.85,372.3 v-1.9 M84.04,372.3 v-1.9 M139.22,372.3 v-1.9 M194.41,372.3 v-1.9 M249.60,372.3 v-1.9 M56.44,372.3 v-1.04 M111.63,372.3 v-1.04 M166.82,372.3 v-1.04 M222.01,372.3 v-1.04 M28.85,372.30 h1.9 M28.85,343.76 h1.9 M28.85,315.22 h1.9 M28.85,286.68 h1.9 M28.85,258.14 h1.9 M28.85,229.60 h1.9 M28.85,358.03 h1.04 M28.85,329.49 h1.04 M28.85,300.95 h1.04 M28.85,272.41 h1.04 M28.85,243.87 h1.04" stroke="#151515" stroke-width="0.7" fill="none"/>
<path d="M28.85,372.09 L29.10,372.09 L29.34,372.09 L29.59,372.09 L29.83,372.09 L30.08,372.09 L30.32,372.09 L30.57,372.09 L30.81,372.09 L31.06,372.09 L31.31,372.09 L31.55,372.09 L31.80,372.09 L32.04,372.09 L32.29,372.09 L32.53,372.09 L32.78,372.09 L33.02,372.09 L33.27,372.09 L33.52,372.09 L33.76,372.09 L34.01,372.09 L34.25,372.09 L34.50,372.09 L34.74,372.09 L34.99,372.09 L35.23,372.09 L35.48,372.09 L35.73,372.09 L35.97,372.09 L36.22,372.09 L36.46,372.09 L36.71,372.09 L36.95,372.09 L37.20,372.09 L37.44,372.09 L37.69,372.09 L37.94,372.09 L38.18,372.09 L38.43,372.09 L38.67,372.09 L38.92,372.09 L39.16,372.09 L39.41,372.09 L39.65,372.09 L39.90,372.09 L40.15,372.09 L40.39,372.09 L40.64,372.09 L40.88,372.09 L41.13,372.09 L41.37,372.09 L41.62,372.09 L41.86,372.09 L42.11,372.09 L42.36,372.09 L42.60,372.09 L42.85,372.09 L43.09,372.09 L43.34,372.09 L43.58,372.09 L43.83,372.09 L44.07,372.09 L44.32,372.09 L44.57,372.09 L44.81,372.09 L45.06,372.09 L45.30,372.09 L45.55,372.09 L45.79,372.09 L46.04,372.09 L46.28,372.09 L46.53,372.09 L46.78,372.09 L47.02,372.08 L47.27,372.07 L47.51,372.06 L47.76,372.05 L48.00,372.04 L48.25,372.04 L48.49,372.03 L48.74,372.02 L48.99,372.01 L49.23,372.00 L49.48,371.99 L49.72,371.98 L49.97,371.97 L50.21,371.96 L50.46,371.96 L50.70,371.95 L50.95,371.94 L51.20,371.93 L51.44,371.93 L51.69,371.92 L51.93,371.91 L52.18,371.90 L52.42,371.90 L52.67,371.89 L52.91,371.89 L53.16,371.88 L53.41,371.87 L53.65,371.87 L53.90,371.86 L54.14,371.86 L54.39,371.86 L54.63,371.85 L54.88,371.85 L55.12,371.84 L55.37,371.84 L55.62,371.84 L55.86,371.84 L56.11,371.84 L56.35,371.83 L56.60,371.83 L56.84,371.83 L57.09,371.83 L57.33,371.83 L57.58,371.83 L57.82,371.84 L58.07,371.84 L58.32,371.84 L58.56,371.84 L58.81,371.85 L59.05,371.85 L59.30,371.85 L59.54,371.86 L59.79,371.86 L60.03,371.87 L60.28,371.88 L60.53,371.88 L60.77,371.89 L61.02,371.90 L61.26,371.91 L61.51,371.92 L61.75,371.92 L62.00,371.93 L62.24,371.94 L62.49,371.95 L62.74,371.96 L62.98,371.97 L63.23,371.98 L63.47,371.99 L63.72,372.00 L63.96,372.01 L64.21,372.01 L64.45,372.02 L64.70,372.03 L64.95,372.03 L65.19,372.04 L65.44,372.05 L65.68,372.05 L65.93,372.06 L66.17,372.06 L66.42,372.06 L66.66,372.06 L66.91,372.06 L67.16,372.06 L67.40,372.06 L67.65,372.06 L67.89,372.06 L68.14,372.05 L68.38,372.04 L68.63,372.04 L68.87,372.03 L69.12,372.02 L69.37,372.00 L69.61,371.99 L69.86,371.98 L70.10,371.96 L70.35,371.94 L70.59,371.93 L70.84,371.91 L71.08,371.89 L71.33,371.87 L71.58,371.85 L71.82,371.84 L72.07,371.82 L72.31,371.80 L72.56,371.78 L72.80,371.77 L73.05,371.75 L73.29,371.74 L73.54,371.73 L73.79,371.72 L74.03,371.71 L74.28,371.70 L74.52,371.70 L74.77,371.70 L75.01,371.70 L75.26,371.70 L75.50,371.71 L75.75,371.72 L76.00,371.73 L76.24,371.75 L76.49,371.77 L76.73,371.79 L76.98,371.81 L77.22,371.83 L77.47,371.86 L77.71,371.88 L77.96,371.91 L78.21,371.93 L78.45,371.96 L78.70,371.98 L78.94,372.00 L79.19,372.02 L79.43,372.03 L79.68,372.04 L79.92,372.05 L80.17,372.05 L80.42,372.05 L80.66,372.04 L80.91,372.03 L81.15,372.01 L81.40,371.98 L81.64,371.94 L81.89,371.90 L82.13,371.84 L82.38,371.78 L82.63,371.71 L82.87,371.62 L83.12,371.53 L83.36,371.42 L83.61,371.30 L83.85,371.17 L84.10,371.04 L84.34,370.92 L84.59,370.79 L84.84,370.68 L85.08,370.59 L85.33,370.51 L85.57,370.46 L85.82,370.44 L86.06,370.44 L86.31,370.47 L86.55,370.53 L86.80,370.60 L87.05,370.68 L87.29,370.78 L87.54,370.88 L87.78,370.99 L88.03,371.10 L88.27,371.20 L88.52,371.31 L88.76,371.40 L89.01,371.49 L89.26,371.56 L89.50,371.63 L89.75,371.68 L89.99,371.71 L90.24,371.73 L90.48,371.73 L90.73,371.71 L90.97,371.67 L91.22,371.62 L91.47,371.55 L91.71,371.46 L91.96,371.37 L92.20,371.26 L92.45,371.14 L92.69,371.01 L92.94,370.87 L93.18,370.72 L93.43,370.57 L93.68,370.41 L93.92,370.26 L94.17,370.12 L94.41,369.99 L94.66,369.87 L94.90,369.76 L95.15,369.68 L95.39,369.62 L95.64,369.59 L95.89,369.59 L96.13,369.63 L96.38,369.69 L96.62,369.77 L96.87,369.88 L97.11,370.01 L97.36,370.15 L97.60,370.31 L97.85,370.47 L98.10,370.64 L98.34,370.81 L98.59,370.99 L98.83,371.16 L99.08,371.32 L99.32,371.46 L99.57,371.59 L99.81,371.70 L100.06,371.79 L100.31,371.85 L100.55,371.87 L100.80,371.87 L101.04,371.82 L101.29,371.74 L101.53,371.62 L101.78,371.47 L102.02,371.29 L102.27,371.09 L102.52,370.85 L102.76,370.59 L103.01,370.31 L103.25,370.01 L103.50,369.69 L103.74,369.35 L103.99,369.00 L104.23,368.64 L104.48,368.29 L104.73,367.94 L104.97,367.60 L105.22,367.28 L105.46,366.99 L105.71,366.73 L105.95,366.51 L106.20,366.34 L106.44,366.22 L106.69,366.17 L106.94,366.18 L107.18,366.25 L107.43,366.38 L107.67,366.56 L107.92,366.79 L108.16,367.05 L108.41,367.36 L108.65,367.69 L108.90,368.05 L109.15,368.43 L109.39,368.83 L109.64,369.23 L109.88,369.62 L110.13,370.02 L110.37,370.39 L110.62,370.74 L110.86,371.06 L111.11,371.34 L111.36,371.57 L111.60,371.74 L111.85,371.85 L112.09,371.89 L112.34,371.86 L112.58,371.76 L112.83,371.61 L113.07,371.41 L113.32,371.17 L113.56,370.89 L113.81,370.58 L114.06,370.25 L114.30,369.91 L114.55,369.55 L114.79,369.20 L115.04,368.85 L115.28,368.51 L115.53,368.19 L115.77,367.89 L116.02,367.61 L116.27,367.37 L116.51,367.17 L116.76,367.02 L117.00,366.92 L117.25,366.88 L117.49,366.90 L117.74,366.97 L117.98,367.08 L118.23,367.23 L118.48,367.39 L118.72,367.57 L118.97,367.75 L119.21,367.91 L119.46,368.06 L119.70,368.19 L119.95,368.28 L120.19,368.34 L120.44,368.36 L120.69,368.32 L120.93,368.24 L121.18,368.09 L121.42,367.88 L121.67,367.60 L121.91,367.25 L122.16,366.82 L122.40,366.31 L122.65,365.73 L122.90,365.05 L123.14,364.29 L123.39,363.43 L123.63,362.50 L123.88,361.50 L124.12,360.46 L124.37,359.38 L124.61,358.29 L124.86,357.19 L125.11,356.11 L125.35,355.06 L125.60,354.07 L125.84,353.16 L126.09,352.35 L126.33,351.66 L126.58,351.12 L126.82,350.74 L127.07,350.55 L127.32,350.56 L127.56,350.76 L127.81,351.15 L128.05,351.69 L128.30,352.38 L128.54,353.20 L128.79,354.13 L129.03,355.15 L129.28,356.24 L129.53,357.40 L129.77,358.58 L130.02,359.76 L130.26,360.88 L130.51,361.91 L130.75,362.82 L131.00,363.56 L131.24,364.10 L131.49,364.39 L131.74,364.41 L131.98,364.12 L132.23,363.50 L132.47,362.53 L132.72,361.18 L132.96,359.41 L133.21,357.21 L133.45,354.48 L133.70,351.01 L133.95,346.61 L134.19,341.07 L134.44,334.18 L134.68,325.80 L134.93,316.39 L135.17,306.70 L135.42,297.49 L135.66,289.27 L135.91,281.88 L136.16,275.02 L136.40,268.37 L136.65,261.86 L136.89,255.69 L137.14,250.10 L137.38,245.31 L137.63,241.51 L137.87,238.57 L138.12,236.23 L138.37,234.21 L138.61,232.38 L138.86,230.88 L139.10,229.90 L139.35,229.61 L139.59,230.11 L139.84,231.26 L140.08,232.86 L140.33,234.76 L140.58,236.84 L140.82,239.33 L141.07,242.48 L141.31,246.56 L141.56,251.59 L141.80,257.37 L142.05,263.66 L142.29,270.23 L142.54,276.91 L142.79,283.89 L143.03,291.48 L143.28,299.98 L143.52,309.41 L143.77,319.09 L144.01,328.29 L144.26,336.26 L144.50,342.75 L144.75,347.96 L145.00,352.07 L145.24,355.31 L145.49,357.88 L145.73,359.95 L145.98,361.60 L146.22,362.84 L146.47,363.71 L146.71,364.23 L146.96,364.43 L147.21,364.34 L147.45,363.97 L147.70,363.37 L147.94,362.58 L148.19,361.63 L148.43,360.57 L148.68,359.43 L148.92,358.25 L149.17,357.07 L149.42,355.93 L149.66,354.85 L149.91,353.86 L150.15,352.96 L150.40,352.17 L150.64,351.52 L150.89,351.02 L151.13,350.69 L151.38,350.53 L151.63,350.58 L151.87,350.83 L152.12,351.26 L152.36,351.84 L152.61,352.57 L152.85,353.41 L153.10,354.34 L153.34,355.35 L153.59,356.41 L153.84,357.50 L154.08,358.60 L154.33,359.69 L154.57,360.76 L154.82,361.79 L155.06,362.77 L155.31,363.68 L155.55,364.51 L155.80,365.25 L156.05,365.90 L156.29,366.46 L156.54,366.95 L156.78,367.35 L157.03,367.68 L157.27,367.94 L157.52,368.14 L157.76,368.27 L158.01,368.34 L158.26,368.36 L158.50,368.33 L158.75,368.26 L158.99,368.15 L159.24,368.02 L159.48,367.87 L159.73,367.70 L159.97,367.52 L160.22,367.34 L160.47,367.18 L160.71,367.04 L160.96,366.94 L161.20,366.88 L161.45,366.88 L161.69,366.94 L161.94,367.06 L162.18,367.23 L162.43,367.44 L162.68,367.69 L162.92,367.97 L163.17,368.28 L163.41,368.60 L163.66,368.95 L163.90,369.30 L164.15,369.65 L164.39,370.00 L164.64,370.35 L164.89,370.67 L165.13,370.97 L165.38,371.24 L165.62,371.47 L165.87,371.66 L166.11,371.79 L166.36,371.87 L166.60,371.88 L166.85,371.83 L167.09,371.70 L167.34,371.51 L167.59,371.26 L167.83,370.97 L168.08,370.64 L168.32,370.29 L168.57,369.91 L168.81,369.51 L169.06,369.11 L169.30,368.71 L169.55,368.33 L169.80,367.95 L170.04,367.60 L170.29,367.27 L170.53,366.98 L170.78,366.72 L171.02,366.50 L171.27,366.33 L171.51,366.22 L171.76,366.17 L172.01,366.18 L172.25,366.25 L172.50,366.39 L172.74,366.57 L172.99,366.80 L173.23,367.07 L173.48,367.37 L173.72,367.69 L173.97,368.03 L174.22,368.39 L174.46,368.75 L174.71,369.10 L174.95,369.45 L175.20,369.78 L175.44,370.10 L175.69,370.39 L175.93,370.67 L176.18,370.92 L176.43,371.15 L176.67,371.35 L176.92,371.52 L177.16,371.66 L177.41,371.76 L177.65,371.84 L177.90,371.87 L178.14,371.87 L178.39,371.83 L178.64,371.77 L178.88,371.67 L179.13,371.56 L179.37,371.42 L179.62,371.27 L179.86,371.11 L180.11,370.94 L180.35,370.77 L180.60,370.59 L180.85,370.42 L181.09,370.26 L181.34,370.11 L181.58,369.97 L181.83,369.85 L182.07,369.75 L182.32,369.67 L182.56,369.61 L182.81,369.59 L183.06,369.60 L183.30,369.64 L183.55,369.70 L183.79,369.79 L184.04,369.90 L184.28,370.02 L184.53,370.16 L184.77,370.31 L185.02,370.46 L185.27,370.61 L185.51,370.76 L185.76,370.91 L186.00,371.04 L186.25,371.17 L186.49,371.29 L186.74,371.40 L186.98,371.49 L187.23,371.57 L187.48,371.63 L187.72,371.68 L187.97,371.72 L188.21,371.73 L188.46,371.73 L188.70,371.70 L188.95,371.67 L189.19,371.61 L189.44,371.54 L189.69,371.46 L189.93,371.37 L190.18,371.28 L190.42,371.18 L190.67,371.07 L190.91,370.96 L191.16,370.85 L191.40,370.75 L191.65,370.66 L191.90,370.58 L192.14,370.51 L192.39,370.46 L192.63,370.44 L192.88,370.44 L193.12,370.47 L193.37,370.53 L193.61,370.61 L193.86,370.71 L194.11,370.83 L194.35,370.95 L194.60,371.08 L194.84,371.21 L195.09,371.34 L195.33,371.45 L195.58,371.56 L195.82,371.65 L196.07,371.73 L196.32,371.80 L196.56,371.86 L196.81,371.91 L197.05,371.95 L197.30,371.99 L197.54,372.01 L197.79,372.03 L198.03,372.04 L198.28,372.05 L198.53,372.05 L198.77,372.05 L199.02,372.04 L199.26,372.03 L199.51,372.01 L199.75,371.99 L200.00,371.97 L200.24,371.95 L200.49,371.93 L200.74,371.90 L200.98,371.88 L201.23,371.85 L201.47,371.83 L201.72,371.80 L201.96,371.78 L202.21,371.76 L202.45,371.74 L202.70,371.73 L202.95,371.72 L203.19,371.71 L203.44,371.70 L203.68,371.70 L203.93,371.70 L204.17,371.70 L204.42,371.71 L204.66,371.71 L204.91,371.72 L205.16,371.73 L205.40,371.74 L205.65,371.76 L205.89,371.77 L206.14,371.79 L206.38,371.81 L206.63,371.82 L206.87,371.84 L207.12,371.86 L207.37,371.88 L207.61,371.90 L207.86,371.91 L208.10,371.93 L208.35,371.95 L208.59,371.97 L208.84,371.98 L209.08,372.00 L209.33,372.01 L209.58,372.02 L209.82,372.03 L210.07,372.04 L210.31,372.05 L210.56,372.05 L210.80,372.06 L211.05,372.06 L211.29,372.06 L211.54,372.06 L211.79,372.06 L212.03,372.06 L212.28,372.06 L212.52,372.06 L212.77,372.05 L213.01,372.05 L213.26,372.05 L213.50,372.04 L213.75,372.03 L214.00,372.03 L214.24,372.02 L214.49,372.01 L214.73,372.00 L214.98,371.99 L215.22,371.99 L215.47,371.98 L215.71,371.97 L215.96,371.96 L216.21,371.95 L216.45,371.94 L216.70,371.93 L216.94,371.92 L217.19,371.91 L217.43,371.90 L217.68,371.90 L217.92,371.89 L218.17,371.88 L218.42,371.87 L218.66,371.87 L218.91,371.86 L219.15,371.86 L219.40,371.85 L219.64,371.85 L219.89,371.84 L220.13,371.84 L220.38,371.84 L220.63,371.84 L220.87,371.83 L221.12,371.83 L221.36,371.83 L221.61,371.83 L221.85,371.83 L222.10,371.83 L222.34,371.83 L222.59,371.84 L222.83,371.84 L223.08,371.84 L223.33,371.84 L223.57,371.85 L223.82,371.85 L224.06,371.85 L224.31,371.86 L224.55,371.86 L224.80,371.87 L225.04,371.87 L225.29,371.88 L225.54,371.88 L225.78,371.89 L226.03,371.89 L226.27,371.90 L226.52,371.91 L226.76,371.91 L227.01,371.92 L227.25,371.93 L227.50,371.93 L227.75,371.94 L227.99,371.95 L228.24,371.96 L228.48,371.97 L228.73,371.98 L228.97,371.98 L229.22,371.99 L229.46,372.00 L229.71,372.01 L229.96,372.02 L230.20,372.03 L230.45,372.04 L230.69,372.05 L230.94,372.06 L231.18,372.07 L231.43,372.08 L231.67,372.09 L231.92,372.09 L232.17,372.09 L232.41,372.09 L232.66,372.09 L232.90,372.09 L233.15,372.09 L233.39,372.09 L233.64,372.09 L233.88,372.09 L234.13,372.09 L234.38,372.09 L234.62,372.09 L234.87,372.09 L235.11,372.09 L235.36,372.09 L235.60,372.09 L235.85,372.09 L236.09,372.09 L236.34,372.09 L236.59,372.09 L236.83,372.09 L237.08,372.09 L237.32,372.09 L237.57,372.09 L237.81,372.09 L238.06,372.09 L238.30,372.09 L238.55,372.09 L238.80,372.09 L239.04,372.09 L239.29,372.09 L239.53,372.09 L239.78,372.09 L240.02,372.09 L240.27,372.09 L240.51,372.09 L240.76,372.09 L241.01,372.09 L241.25,372.09 L241.50,372.09 L241.74,372.09 L241.99,372.09 L242.23,372.09 L242.48,372.09 L242.72,372.09 L242.97,372.09 L243.22,372.09 L243.46,372.09 L243.71,372.09 L243.95,372.09 L244.20,372.09 L244.44,372.09 L244.69,372.09 L244.93,372.09 L245.18,372.09 L245.43,372.09 L245.67,372.09 L245.92,372.09 L246.16,372.09 L246.41,372.09 L246.65,372.09 L246.90,372.09 L247.14,372.09 L247.39,372.09 L247.64,372.09 L247.88,372.09 L248.13,372.09 L248.37,372.09 L248.62,372.09 L248.86,372.09 L249.11,372.09 L249.35,372.09 L249.60,372.09" fill="none" stroke="#3c3cf8" stroke-width="1.35" stroke-linejoin="round"/>
<text x="29.15" y="381.55" text-anchor="middle" style="font-family:'Liberation Serif',serif;font-size:7.04px;fill:#000;stroke:#000;stroke-width:0.15">−10</text>
<text x="84.04" y="381.55" text-anchor="middle" style="font-family:'Liberation Serif',serif;font-size:7.04px;fill:#000;stroke:#000;stroke-width:0.15">−5</text>
<text x="139.22" y="381.55" text-anchor="middle" style="font-family:'Liberation Serif',serif;font-size:7.04px;fill:#000;stroke:#000;stroke-width:0.15">0</text>
<text x="194.41" y="381.55" text-anchor="middle" style="font-family:'Liberation Serif',serif;font-size:7.04px;fill:#000;stroke:#000;stroke-width:0.15">5</text>
<text x="249.60" y="381.55" text-anchor="middle" style="font-family:'Liberation Serif',serif;font-size:7.04px;fill:#000;stroke:#000;stroke-width:0.15">10</text>
<text x="26.25" y="375.58" text-anchor="end" textLength="10.70" lengthAdjust="spacing" style="font-family:'Liberation Serif',serif;font-size:7.04px;fill:#000;stroke:#000;stroke-width:0.15">0.0</text>
<text x="26.25" y="347.04" text-anchor="end" textLength="10.70" lengthAdjust="spacing" style="font-family:'Liberation Serif',serif;font-size:7.04px;fill:#000;stroke:#000;stroke-width:0.15">0.2</text>
<text x="26.25" y="318.50" text-anchor="end" textLength="10.70" lengthAdjust="spacing" style="font-family:'Liberation Serif',serif;font-size:7.04px;fill:#000;stroke:#000;stroke-width:0.15">0.4</text>
<text x="26.25" y="289.96" text-anchor="end" textLength="10.70" lengthAdjust="spacing" style="font-family:'Liberation Serif',serif;font-size:7.04px;fill:#000;stroke:#000;stroke-width:0.15">0.6</text>
<text x="26.25" y="261.42" text-anchor="end" textLength="10.70" lengthAdjust="spacing" style="font-family:'Liberation Serif',serif;font-size:7.04px;fill:#000;stroke:#000;stroke-width:0.15">0.8</text>
<text x="26.25" y="232.88" text-anchor="end" textLength="10.70" lengthAdjust="spacing" style="font-family:'Liberation Serif',serif;font-size:7.04px;fill:#000;stroke:#000;stroke-width:0.15">1.0</text>
<text x="139.22" y="392.16" text-anchor="middle" style="font-family:'Liberation Sans',sans-serif;font-weight:bold;font-size:7.25px;fill:#000">X (um)</text>
<text transform="translate(11.65,300.75) rotate(-90)" text-anchor="middle" style="font-family:'Liberation Sans',sans-serif;font-weight:bold;font-size:7.25px;fill:#000">Normalized optical intensity (a.u.)</text>
<clipPath id="clipd"><rect x="450.0" y="237.5" width="65.80" height="63.10"/></clipPath>
<rect x="450.0" y="237.5" width="65.80" height="63.10" fill="#000096"/>
<g clip-path="url(#clipd)">
<circle cx="482.7" cy="268.9" r="6" fill="url(#halo)" opacity="0.5"/>
<circle cx="482.7" cy="268.9" r="4.3" fill="url(#spotD)"/>
</g>
<rect x="517.5" y="240.0" width="3.20" height="59.00" fill="url(#jet)"/>
<rect x="517.5" y="298.70" width="3.20" height="1.90" fill="#00008f"/>
<text x="452.20" y="306.20" text-anchor="middle" style="font-family:'Liberation Sans',sans-serif;font-weight:bold;font-size:4.291399999999999px;fill:#1a1a1a;stroke:#1a1a1a;stroke-width:0.2">−10</text>
<text x="468.65" y="306.20" text-anchor="middle" style="font-family:'Liberation Sans',sans-serif;font-weight:bold;font-size:4.291399999999999px;fill:#1a1a1a;stroke:#1a1a1a;stroke-width:0.2">−5</text>
<text x="483.40" y="306.20" text-anchor="middle" style="font-family:'Liberation Sans',sans-serif;font-weight:bold;font-size:4.291399999999999px;fill:#1a1a1a;stroke:#1a1a1a;stroke-width:0.2">0</text>
<text x="499.85" y="306.20" text-anchor="middle" style="font-family:'Liberation Sans',sans-serif;font-weight:bold;font-size:4.291399999999999px;fill:#1a1a1a;stroke:#1a1a1a;stroke-width:0.2">5</text>
<text x="515.40" y="306.20" text-anchor="middle" style="font-family:'Liberation Sans',sans-serif;font-weight:bold;font-size:4.291399999999999px;fill:#1a1a1a;stroke:#1a1a1a;stroke-width:0.2">10</text>
<text x="447.90" y="239.40" text-anchor="end" style="font-family:'Liberation Sans',sans-serif;font-weight:bold;font-size:4.291399999999999px;fill:#1a1a1a;stroke:#1a1a1a;stroke-width:0.2">10</text>
<text x="447.90" y="254.85" text-anchor="end" style="font-family:'Liberation Sans',sans-serif;font-weight:bold;font-size:4.291399999999999px;fill:#1a1a1a;stroke:#1a1a1a;stroke-width:0.2">5</text>
<text x="447.90" y="270.30" text-anchor="end" style="font-family:'Liberation Sans',sans-serif;font-weight:bold;font-size:4.291399999999999px;fill:#1a1a1a;stroke:#1a1a1a;stroke-width:0.2">0</text>
<text x="447.90" y="285.75" text-anchor="end" style="font-family:'Liberation Sans',sans-serif;font-weight:bold;font-size:4.291399999999999px;fill:#1a1a1a;stroke:#1a1a1a;stroke-width:0.2">−5</text>
<text x="447.90" y="301.20" text-anchor="end" style="font-family:'Liberation Sans',sans-serif;font-weight:bold;font-size:4.291399999999999px;fill:#1a1a1a;stroke:#1a1a1a;stroke-width:0.2">−10</text>
<text x="482.20" y="314.00" text-anchor="middle" style="font-family:'Liberation Sans',sans-serif;font-weight:bold;font-size:4.35px;fill:#1a1a1a;stroke:#1a1a1a;stroke-width:0.12">X (um)</text>
<text transform="translate(438.00,270.55) rotate(-90)" text-anchor="middle" style="font-family:'Liberation Sans',sans-serif;font-weight:bold;font-size:4.35px;fill:#1a1a1a;stroke:#1a1a1a;stroke-width:0.12">Y (um)</text>
<path d="M519.80,251.66 h1.6 M519.80,263.32 h1.6 M519.80,274.98 h1.6 M519.80,286.64 h1.6" stroke="#222" stroke-width="0.35" fill="none"/>
<text x="522.70" y="242.15" style="font-family:'Liberation Sans',sans-serif;font-weight:bold;font-size:4.6px;fill:#1a1a1a;stroke:#1a1a1a;stroke-width:0.12">1</text>
<text x="522.70" y="254.51" style="font-family:'Liberation Sans',sans-serif;font-weight:bold;font-size:4.6px;fill:#1a1a1a;stroke:#1a1a1a;stroke-width:0.12">0.8</text>
<text x="522.70" y="266.07" style="font-family:'Liberation Sans',sans-serif;font-weight:bold;font-size:4.6px;fill:#1a1a1a;stroke:#1a1a1a;stroke-width:0.12">0.6</text>
<text x="522.70" y="277.63" style="font-family:'Liberation Sans',sans-serif;font-weight:bold;font-size:4.6px;fill:#1a1a1a;stroke:#1a1a1a;stroke-width:0.12">0.4</text>
<text x="522.70" y="289.19" style="font-family:'Liberation Sans',sans-serif;font-weight:bold;font-size:4.6px;fill:#1a1a1a;stroke:#1a1a1a;stroke-width:0.12">0.2</text>
<text x="522.70" y="299.95" style="font-family:'Liberation Sans',sans-serif;font-weight:bold;font-size:4.6px;fill:#1a1a1a;stroke:#1a1a1a;stroke-width:0.12">0</text>
<text transform="translate(534.20,266.60) rotate(90)" text-anchor="middle" style="font-family:'Liberation Sans',sans-serif;font-weight:bold;font-size:4.2px;fill:#1a1a1a;stroke:#1a1a1a;stroke-width:0.1">Intensity (a.u.)</text>
<path d="M312.2,230.2 V378.0 M541.1,230.2 V378.0" fill="none" stroke="#686868" stroke-width="1.2"/>
<path d="M311.62,230.2 H541.68 M311.62,378.0 H541.68" fill="none" stroke="#4c4c4c" stroke-width="1.05"/>
<path d="M312.20,378.0 v-2.3 M369.43,378.0 v-2.3 M426.65,378.0 v-2.3 M483.88,378.0 v-2.3 M541.10,378.0 v-2.3 M340.81,378.0 v-1.26 M398.04,378.0 v-1.26 M455.26,378.0 v-1.26 M512.49,378.0 v-1.26 M312.2,378.00 h2.3 M312.2,348.44 h2.3 M312.2,318.88 h2.3 M312.2,289.32 h2.3 M312.2,259.76 h2.3 M312.2,230.20 h2.3 M312.2,363.22 h1.26 M312.2,333.66 h1.26 M312.2,304.10 h1.26 M312.2,274.54 h1.26 M312.2,244.98 h1.26" stroke="#151515" stroke-width="0.7" fill="none"/>
<path d="M312.20,377.78 L312.45,377.78 L312.71,377.78 L312.96,377.78 L313.22,377.78 L313.47,377.78 L313.73,377.78 L313.98,377.78 L314.24,377.78 L314.49,377.78 L314.75,377.78 L315.00,377.78 L315.26,377.78 L315.51,377.78 L315.76,377.78 L316.02,377.78 L316.27,377.78 L316.53,377.78 L316.78,377.78 L317.04,377.78 L317.29,377.78 L317.55,377.78 L317.80,377.78 L318.06,377.78 L318.31,377.78 L318.57,377.78 L318.82,377.78 L319.07,377.78 L319.33,377.78 L319.58,377.78 L319.84,377.78 L320.09,377.78 L320.35,377.78 L320.60,377.78 L320.86,377.78 L321.11,377.78 L321.37,377.78 L321.62,377.78 L321.88,377.78 L322.13,377.78 L322.38,377.78 L322.64,377.78 L322.89,377.78 L323.15,377.78 L323.40,377.78 L323.66,377.78 L323.91,377.78 L324.17,377.78 L324.42,377.78 L324.68,377.78 L324.93,377.78 L325.19,377.78 L325.44,377.78 L325.69,377.78 L325.95,377.78 L326.20,377.78 L326.46,377.78 L326.71,377.78 L326.97,377.78 L327.22,377.78 L327.48,377.78 L327.73,377.78 L327.99,377.78 L328.24,377.78 L328.50,377.78 L328.75,377.78 L329.00,377.78 L329.26,377.78 L329.51,377.78 L329.77,377.78 L330.02,377.78 L330.28,377.78 L330.53,377.78 L330.79,377.78 L331.04,377.78 L331.30,377.78 L331.55,377.78 L331.81,377.77 L332.06,377.77 L332.31,377.76 L332.57,377.75 L332.82,377.74 L333.08,377.73 L333.33,377.72 L333.59,377.71 L333.84,377.71 L334.10,377.70 L334.35,377.69 L334.61,377.68 L334.86,377.67 L335.12,377.66 L335.37,377.66 L335.62,377.65 L335.88,377.64 L336.13,377.63 L336.39,377.63 L336.64,377.62 L336.90,377.61 L337.15,377.61 L337.41,377.60 L337.66,377.59 L337.92,377.59 L338.17,377.58 L338.43,377.58 L338.68,377.57 L338.93,377.57 L339.19,377.56 L339.44,377.56 L339.70,377.55 L339.95,377.55 L340.21,377.55 L340.46,377.54 L340.72,377.54 L340.97,377.54 L341.23,377.54 L341.48,377.53 L341.74,377.53 L341.99,377.53 L342.24,377.53 L342.50,377.53 L342.75,377.53 L343.01,377.53 L343.26,377.53 L343.52,377.53 L343.77,377.53 L344.03,377.54 L344.28,377.54 L344.54,377.54 L344.79,377.55 L345.05,377.55 L345.30,377.55 L345.55,377.56 L345.81,377.56 L346.06,377.57 L346.32,377.58 L346.57,377.58 L346.83,377.59 L347.08,377.60 L347.34,377.60 L347.59,377.61 L347.85,377.62 L348.10,377.63 L348.36,377.63 L348.61,377.64 L348.86,377.65 L349.12,377.66 L349.37,377.66 L349.63,377.67 L349.88,377.68 L350.14,377.69 L350.39,377.69 L350.65,377.70 L350.90,377.70 L351.16,377.71 L351.41,377.71 L351.67,377.72 L351.92,377.72 L352.17,377.72 L352.43,377.72 L352.68,377.73 L352.94,377.73 L353.19,377.73 L353.45,377.73 L353.70,377.72 L353.96,377.72 L354.21,377.72 L354.47,377.71 L354.72,377.70 L354.98,377.70 L355.23,377.69 L355.48,377.68 L355.74,377.67 L355.99,377.66 L356.25,377.65 L356.50,377.63 L356.76,377.62 L357.01,377.61 L357.27,377.60 L357.52,377.58 L357.78,377.57 L358.03,377.55 L358.29,377.54 L358.54,377.53 L358.79,377.51 L359.05,377.50 L359.30,377.49 L359.56,377.48 L359.81,377.46 L360.07,377.45 L360.32,377.44 L360.58,377.43 L360.83,377.43 L361.09,377.42 L361.34,377.41 L361.60,377.41 L361.85,377.41 L362.10,377.40 L362.36,377.40 L362.61,377.41 L362.87,377.41 L363.12,377.41 L363.38,377.42 L363.63,377.43 L363.89,377.44 L364.14,377.45 L364.40,377.46 L364.65,377.47 L364.91,377.49 L365.16,377.50 L365.41,377.52 L365.67,377.53 L365.92,377.55 L366.18,377.56 L366.43,377.58 L366.69,377.59 L366.94,377.61 L367.20,377.62 L367.45,377.64 L367.71,377.65 L367.96,377.66 L368.22,377.67 L368.47,377.68 L368.72,377.69 L368.98,377.70 L369.23,377.70 L369.49,377.70 L369.74,377.70 L370.00,377.70 L370.25,377.70 L370.51,377.69 L370.76,377.69 L371.02,377.67 L371.27,377.66 L371.53,377.64 L371.78,377.62 L372.03,377.59 L372.29,377.56 L372.54,377.53 L372.80,377.49 L373.05,377.45 L373.31,377.40 L373.56,377.35 L373.82,377.29 L374.07,377.23 L374.33,377.17 L374.58,377.10 L374.84,377.04 L375.09,376.98 L375.34,376.92 L375.60,376.87 L375.85,376.82 L376.11,376.77 L376.36,376.73 L376.62,376.70 L376.87,376.68 L377.13,376.67 L377.38,376.67 L377.64,376.68 L377.89,376.69 L378.15,376.72 L378.40,376.75 L378.65,376.79 L378.91,376.83 L379.16,376.88 L379.42,376.93 L379.67,376.99 L379.93,377.05 L380.18,377.11 L380.44,377.17 L380.69,377.23 L380.95,377.29 L381.20,377.34 L381.46,377.40 L381.71,377.45 L381.96,377.50 L382.22,377.55 L382.47,377.59 L382.73,377.63 L382.98,377.66 L383.24,377.68 L383.49,377.70 L383.75,377.71 L384.00,377.71 L384.26,377.70 L384.51,377.68 L384.77,377.66 L385.02,377.62 L385.27,377.58 L385.53,377.53 L385.78,377.47 L386.04,377.41 L386.29,377.34 L386.55,377.26 L386.80,377.17 L387.06,377.08 L387.31,376.99 L387.57,376.89 L387.82,376.78 L388.08,376.67 L388.33,376.56 L388.58,376.45 L388.84,376.33 L389.09,376.22 L389.35,376.12 L389.60,376.02 L389.86,375.93 L390.11,375.84 L390.37,375.77 L390.62,375.71 L390.88,375.67 L391.13,375.64 L391.39,375.63 L391.64,375.64 L391.89,375.66 L392.15,375.70 L392.40,375.75 L392.66,375.81 L392.91,375.89 L393.17,375.98 L393.42,376.08 L393.68,376.18 L393.93,376.29 L394.19,376.41 L394.44,376.54 L394.70,376.66 L394.95,376.79 L395.20,376.92 L395.46,377.04 L395.71,377.16 L395.97,377.27 L396.22,377.37 L396.48,377.47 L396.73,377.55 L396.99,377.61 L397.24,377.66 L397.50,377.69 L397.75,377.71 L398.01,377.70 L398.26,377.66 L398.51,377.61 L398.77,377.53 L399.02,377.43 L399.28,377.31 L399.53,377.17 L399.79,377.00 L400.04,376.80 L400.30,376.58 L400.55,376.34 L400.81,376.07 L401.06,375.77 L401.32,375.45 L401.57,375.11 L401.82,374.75 L402.08,374.37 L402.33,373.97 L402.59,373.57 L402.84,373.16 L403.10,372.74 L403.35,372.32 L403.61,371.90 L403.86,371.49 L404.12,371.08 L404.37,370.69 L404.63,370.31 L404.88,369.96 L405.13,369.63 L405.39,369.33 L405.64,369.07 L405.90,368.84 L406.15,368.67 L406.41,368.54 L406.66,368.48 L406.92,368.47 L407.17,368.52 L407.43,368.62 L407.68,368.77 L407.94,368.96 L408.19,369.19 L408.44,369.45 L408.70,369.74 L408.95,370.05 L409.21,370.37 L409.46,370.70 L409.72,371.04 L409.97,371.37 L410.23,371.70 L410.48,372.01 L410.74,372.29 L410.99,372.54 L411.25,372.74 L411.50,372.90 L411.75,373.01 L412.01,373.05 L412.26,373.03 L412.52,372.91 L412.77,372.71 L413.03,372.39 L413.28,371.95 L413.54,371.38 L413.79,370.67 L414.05,369.80 L414.30,368.76 L414.56,367.57 L414.81,366.24 L415.06,364.78 L415.32,363.22 L415.57,361.56 L415.83,359.81 L416.08,357.98 L416.34,356.03 L416.59,353.90 L416.85,351.56 L417.10,348.97 L417.36,346.08 L417.61,342.90 L417.87,339.43 L418.12,335.69 L418.37,331.69 L418.63,327.44 L418.88,322.97 L419.14,318.34 L419.39,313.60 L419.65,308.80 L419.90,304.00 L420.16,299.25 L420.41,294.56 L420.67,289.96 L420.92,285.44 L421.18,281.04 L421.43,276.75 L421.68,272.59 L421.94,268.57 L422.19,264.71 L422.45,261.02 L422.70,257.50 L422.96,254.17 L423.21,251.03 L423.47,248.11 L423.72,245.39 L423.98,242.88 L424.23,240.59 L424.49,238.50 L424.74,236.64 L424.99,235.00 L425.25,233.58 L425.50,232.40 L425.76,231.46 L426.01,230.78 L426.27,230.35 L426.52,230.20 L426.78,230.32 L427.03,230.72 L427.29,231.38 L427.54,232.29 L427.80,233.45 L428.05,234.84 L428.31,236.47 L428.56,238.31 L428.81,240.37 L429.07,242.64 L429.32,245.13 L429.58,247.82 L429.83,250.73 L430.09,253.84 L430.34,257.15 L430.60,260.65 L430.85,264.33 L431.11,268.18 L431.36,272.18 L431.62,276.32 L431.87,280.60 L432.12,284.99 L432.38,289.50 L432.63,294.10 L432.89,298.77 L433.14,303.52 L433.40,308.31 L433.65,313.11 L433.91,317.86 L434.16,322.51 L434.42,326.99 L434.67,331.27 L434.93,335.29 L435.18,339.06 L435.43,342.56 L435.69,345.77 L435.94,348.69 L436.20,351.31 L436.45,353.67 L436.71,355.82 L436.96,357.79 L437.22,359.63 L437.47,361.38 L437.73,363.06 L437.98,364.63 L438.24,366.10 L438.49,367.44 L438.74,368.65 L439.00,369.70 L439.25,370.59 L439.51,371.32 L439.76,371.90 L440.02,372.35 L440.27,372.68 L440.53,372.90 L440.78,373.02 L441.04,373.05 L441.29,373.02 L441.55,372.92 L441.80,372.76 L442.05,372.56 L442.31,372.31 L442.56,372.04 L442.82,371.73 L443.07,371.41 L443.33,371.07 L443.58,370.74 L443.84,370.40 L444.09,370.08 L444.35,369.77 L444.60,369.48 L444.86,369.21 L445.11,368.98 L445.36,368.79 L445.62,368.63 L445.87,368.52 L446.13,368.47 L446.38,368.47 L446.64,368.53 L446.89,368.65 L447.15,368.82 L447.40,369.04 L447.66,369.30 L447.91,369.59 L448.17,369.92 L448.42,370.28 L448.67,370.65 L448.93,371.04 L449.18,371.45 L449.44,371.86 L449.69,372.28 L449.95,372.70 L450.20,373.12 L450.46,373.53 L450.71,373.93 L450.97,374.33 L451.22,374.71 L451.48,375.08 L451.73,375.42 L451.98,375.74 L452.24,376.04 L452.49,376.31 L452.75,376.56 L453.00,376.78 L453.26,376.98 L453.51,377.15 L453.77,377.30 L454.02,377.42 L454.28,377.53 L454.53,377.60 L454.79,377.66 L455.04,377.69 L455.29,377.71 L455.55,377.70 L455.80,377.67 L456.06,377.62 L456.31,377.55 L456.57,377.47 L456.82,377.38 L457.08,377.28 L457.33,377.17 L457.59,377.05 L457.84,376.93 L458.10,376.80 L458.35,376.68 L458.60,376.55 L458.86,376.43 L459.11,376.31 L459.37,376.19 L459.62,376.09 L459.88,375.99 L460.13,375.90 L460.39,375.82 L460.64,375.76 L460.90,375.70 L461.15,375.66 L461.41,375.64 L461.66,375.63 L461.91,375.64 L462.17,375.67 L462.42,375.71 L462.68,375.77 L462.93,375.84 L463.19,375.92 L463.44,376.01 L463.70,376.11 L463.95,376.21 L464.21,376.32 L464.46,376.43 L464.72,376.55 L464.97,376.66 L465.22,376.77 L465.48,376.88 L465.73,376.98 L465.99,377.07 L466.24,377.17 L466.50,377.25 L466.75,377.33 L467.01,377.40 L467.26,377.47 L467.52,377.53 L467.77,377.58 L468.03,377.62 L468.28,377.65 L468.53,377.68 L468.79,377.70 L469.04,377.71 L469.30,377.71 L469.55,377.70 L469.81,377.68 L470.06,377.66 L470.32,377.63 L470.57,377.59 L470.83,377.55 L471.08,377.51 L471.34,377.46 L471.59,377.41 L471.84,377.35 L472.10,377.29 L472.35,377.23 L472.61,377.17 L472.86,377.11 L473.12,377.05 L473.37,377.00 L473.63,376.94 L473.88,376.89 L474.14,376.84 L474.39,376.79 L474.65,376.75 L474.90,376.72 L475.15,376.69 L475.41,376.68 L475.66,376.67 L475.92,376.67 L476.17,376.68 L476.43,376.70 L476.68,376.73 L476.94,376.77 L477.19,376.81 L477.45,376.86 L477.70,376.92 L477.96,376.97 L478.21,377.03 L478.46,377.10 L478.72,377.16 L478.97,377.22 L479.23,377.28 L479.48,377.34 L479.74,377.39 L479.99,377.44 L480.25,377.49 L480.50,377.53 L480.76,377.56 L481.01,377.59 L481.27,377.62 L481.52,377.64 L481.77,377.66 L482.03,377.67 L482.28,377.68 L482.54,377.69 L482.79,377.70 L483.05,377.70 L483.30,377.70 L483.56,377.70 L483.81,377.70 L484.07,377.70 L484.32,377.69 L484.58,377.68 L484.83,377.67 L485.08,377.66 L485.34,377.65 L485.59,377.64 L485.85,377.62 L486.10,377.61 L486.36,377.59 L486.61,377.58 L486.87,377.56 L487.12,377.55 L487.38,377.53 L487.63,377.52 L487.89,377.50 L488.14,377.49 L488.39,377.48 L488.65,377.46 L488.90,377.45 L489.16,377.44 L489.41,377.43 L489.67,377.42 L489.92,377.42 L490.18,377.41 L490.43,377.41 L490.69,377.40 L490.94,377.40 L491.20,377.41 L491.45,377.41 L491.70,377.41 L491.96,377.42 L492.21,377.43 L492.47,377.43 L492.72,377.44 L492.98,377.45 L493.23,377.46 L493.49,377.47 L493.74,377.49 L494.00,377.50 L494.25,377.51 L494.51,377.53 L494.76,377.54 L495.01,377.55 L495.27,377.57 L495.52,377.58 L495.78,377.59 L496.03,377.61 L496.29,377.62 L496.54,377.63 L496.80,377.65 L497.05,377.66 L497.31,377.67 L497.56,377.68 L497.82,377.69 L498.07,377.70 L498.32,377.70 L498.58,377.71 L498.83,377.72 L499.09,377.72 L499.34,377.72 L499.60,377.72 L499.85,377.73 L500.11,377.73 L500.36,377.73 L500.62,377.72 L500.87,377.72 L501.13,377.72 L501.38,377.72 L501.63,377.71 L501.89,377.71 L502.14,377.70 L502.40,377.70 L502.65,377.69 L502.91,377.69 L503.16,377.68 L503.42,377.67 L503.67,377.67 L503.93,377.66 L504.18,377.65 L504.44,377.64 L504.69,377.63 L504.94,377.63 L505.20,377.62 L505.45,377.61 L505.71,377.60 L505.96,377.60 L506.22,377.59 L506.47,377.58 L506.73,377.58 L506.98,377.57 L507.24,377.56 L507.49,377.56 L507.75,377.55 L508.00,377.55 L508.25,377.55 L508.51,377.54 L508.76,377.54 L509.02,377.54 L509.27,377.53 L509.53,377.53 L509.78,377.53 L510.04,377.53 L510.29,377.53 L510.55,377.53 L510.80,377.53 L511.06,377.53 L511.31,377.53 L511.56,377.53 L511.82,377.54 L512.07,377.54 L512.33,377.54 L512.58,377.54 L512.84,377.55 L513.09,377.55 L513.35,377.55 L513.60,377.56 L513.86,377.56 L514.11,377.57 L514.37,377.57 L514.62,377.58 L514.87,377.58 L515.13,377.59 L515.38,377.59 L515.64,377.60 L515.89,377.61 L516.15,377.61 L516.40,377.62 L516.66,377.63 L516.91,377.63 L517.17,377.64 L517.42,377.65 L517.68,377.66 L517.93,377.66 L518.18,377.67 L518.44,377.68 L518.69,377.69 L518.95,377.70 L519.20,377.70 L519.46,377.71 L519.71,377.72 L519.97,377.73 L520.22,377.74 L520.48,377.75 L520.73,377.76 L520.99,377.76 L521.24,377.77 L521.49,377.78 L521.75,377.78 L522.00,377.78 L522.26,377.78 L522.51,377.78 L522.77,377.78 L523.02,377.78 L523.28,377.78 L523.53,377.78 L523.79,377.78 L524.04,377.78 L524.30,377.78 L524.55,377.78 L524.80,377.78 L525.06,377.78 L525.31,377.78 L525.57,377.78 L525.82,377.78 L526.08,377.78 L526.33,377.78 L526.59,377.78 L526.84,377.78 L527.10,377.78 L527.35,377.78 L527.61,377.78 L527.86,377.78 L528.11,377.78 L528.37,377.78 L528.62,377.78 L528.88,377.78 L529.13,377.78 L529.39,377.78 L529.64,377.78 L529.90,377.78 L530.15,377.78 L530.41,377.78 L530.66,377.78 L530.92,377.78 L531.17,377.78 L531.42,377.78 L531.68,377.78 L531.93,377.78 L532.19,377.78 L532.44,377.78 L532.70,377.78 L532.95,377.78 L533.21,377.78 L533.46,377.78 L533.72,377.78 L533.97,377.78 L534.23,377.78 L534.48,377.78 L534.73,377.78 L534.99,377.78 L535.24,377.78 L535.50,377.78 L535.75,377.78 L536.01,377.78 L536.26,377.78 L536.52,377.78 L536.77,377.78 L537.03,377.78 L537.28,377.78 L537.54,377.78 L537.79,377.78 L538.04,377.78 L538.30,377.78 L538.55,377.78 L538.81,377.78 L539.06,377.78 L539.32,377.78 L539.57,377.78 L539.83,377.78 L540.08,377.78 L540.34,377.78 L540.59,377.78 L540.85,377.78 L541.10,377.78" fill="none" stroke="#32a332" stroke-width="1.35" stroke-linejoin="round"/>
<text x="312.50" y="386.88" text-anchor="middle" style="font-family:'Liberation Serif',serif;font-size:7.29px;fill:#000;stroke:#000;stroke-width:0.15">−10</text>
<text x="369.43" y="386.88" text-anchor="middle" style="font-family:'Liberation Serif',serif;font-size:7.29px;fill:#000;stroke:#000;stroke-width:0.15">−5</text>
<text x="426.65" y="386.88" text-anchor="middle" style="font-family:'Liberation Serif',serif;font-size:7.29px;fill:#000;stroke:#000;stroke-width:0.15">0</text>
<text x="483.88" y="386.88" text-anchor="middle" style="font-family:'Liberation Serif',serif;font-size:7.29px;fill:#000;stroke:#000;stroke-width:0.15">5</text>
<text x="541.10" y="386.88" text-anchor="middle" style="font-family:'Liberation Serif',serif;font-size:7.29px;fill:#000;stroke:#000;stroke-width:0.15">10</text>
<text x="309.20" y="381.39" text-anchor="end" textLength="11.08" lengthAdjust="spacing" style="font-family:'Liberation Serif',serif;font-size:7.29px;fill:#000;stroke:#000;stroke-width:0.15">0.0</text>
<text x="309.20" y="351.83" text-anchor="end" textLength="11.08" lengthAdjust="spacing" style="font-family:'Liberation Serif',serif;font-size:7.29px;fill:#000;stroke:#000;stroke-width:0.15">0.2</text>
<text x="309.20" y="322.27" text-anchor="end" textLength="11.08" lengthAdjust="spacing" style="font-family:'Liberation Serif',serif;font-size:7.29px;fill:#000;stroke:#000;stroke-width:0.15">0.4</text>
<text x="309.20" y="292.71" text-anchor="end" textLength="11.08" lengthAdjust="spacing" style="font-family:'Liberation Serif',serif;font-size:7.29px;fill:#000;stroke:#000;stroke-width:0.15">0.6</text>
<text x="309.20" y="263.15" text-anchor="end" textLength="11.08" lengthAdjust="spacing" style="font-family:'Liberation Serif',serif;font-size:7.29px;fill:#000;stroke:#000;stroke-width:0.15">0.8</text>
<text x="309.20" y="233.59" text-anchor="end" textLength="11.08" lengthAdjust="spacing" style="font-family:'Liberation Serif',serif;font-size:7.29px;fill:#000;stroke:#000;stroke-width:0.15">1.0</text>
<text x="426.65" y="397.76" text-anchor="middle" style="font-family:'Liberation Sans',sans-serif;font-weight:bold;font-size:7.50px;fill:#000">X (um)</text>
<text transform="translate(294.70,303.90) rotate(-90)" text-anchor="middle" style="font-family:'Liberation Sans',sans-serif;font-weight:bold;font-size:7.50px;fill:#000">Normalized optical intensity (a.u.)</text>
<text x="132.4" y="207.9" text-anchor="middle" style="font-family:'Liberation Serif',serif;font-size:10.6px;fill:#111">(<tspan font-weight="bold">a</tspan>)</text>
<text x="414.3" y="207.9" text-anchor="middle" style="font-family:'Liberation Serif',serif;font-size:10.6px;fill:#111">(<tspan font-weight="bold">b</tspan>)</text>
<text x="132.4" y="427.1" text-anchor="middle" style="font-family:'Liberation Serif',serif;font-size:10.6px;fill:#111">(<tspan font-weight="bold">c</tspan>)</text>
<text x="414.2" y="427.1" text-anchor="middle" style="font-family:'Liberation Serif',serif;font-size:10.6px;fill:#111">(<tspan font-weight="bold">d</tspan>)</text>
</svg>
</body></html>
